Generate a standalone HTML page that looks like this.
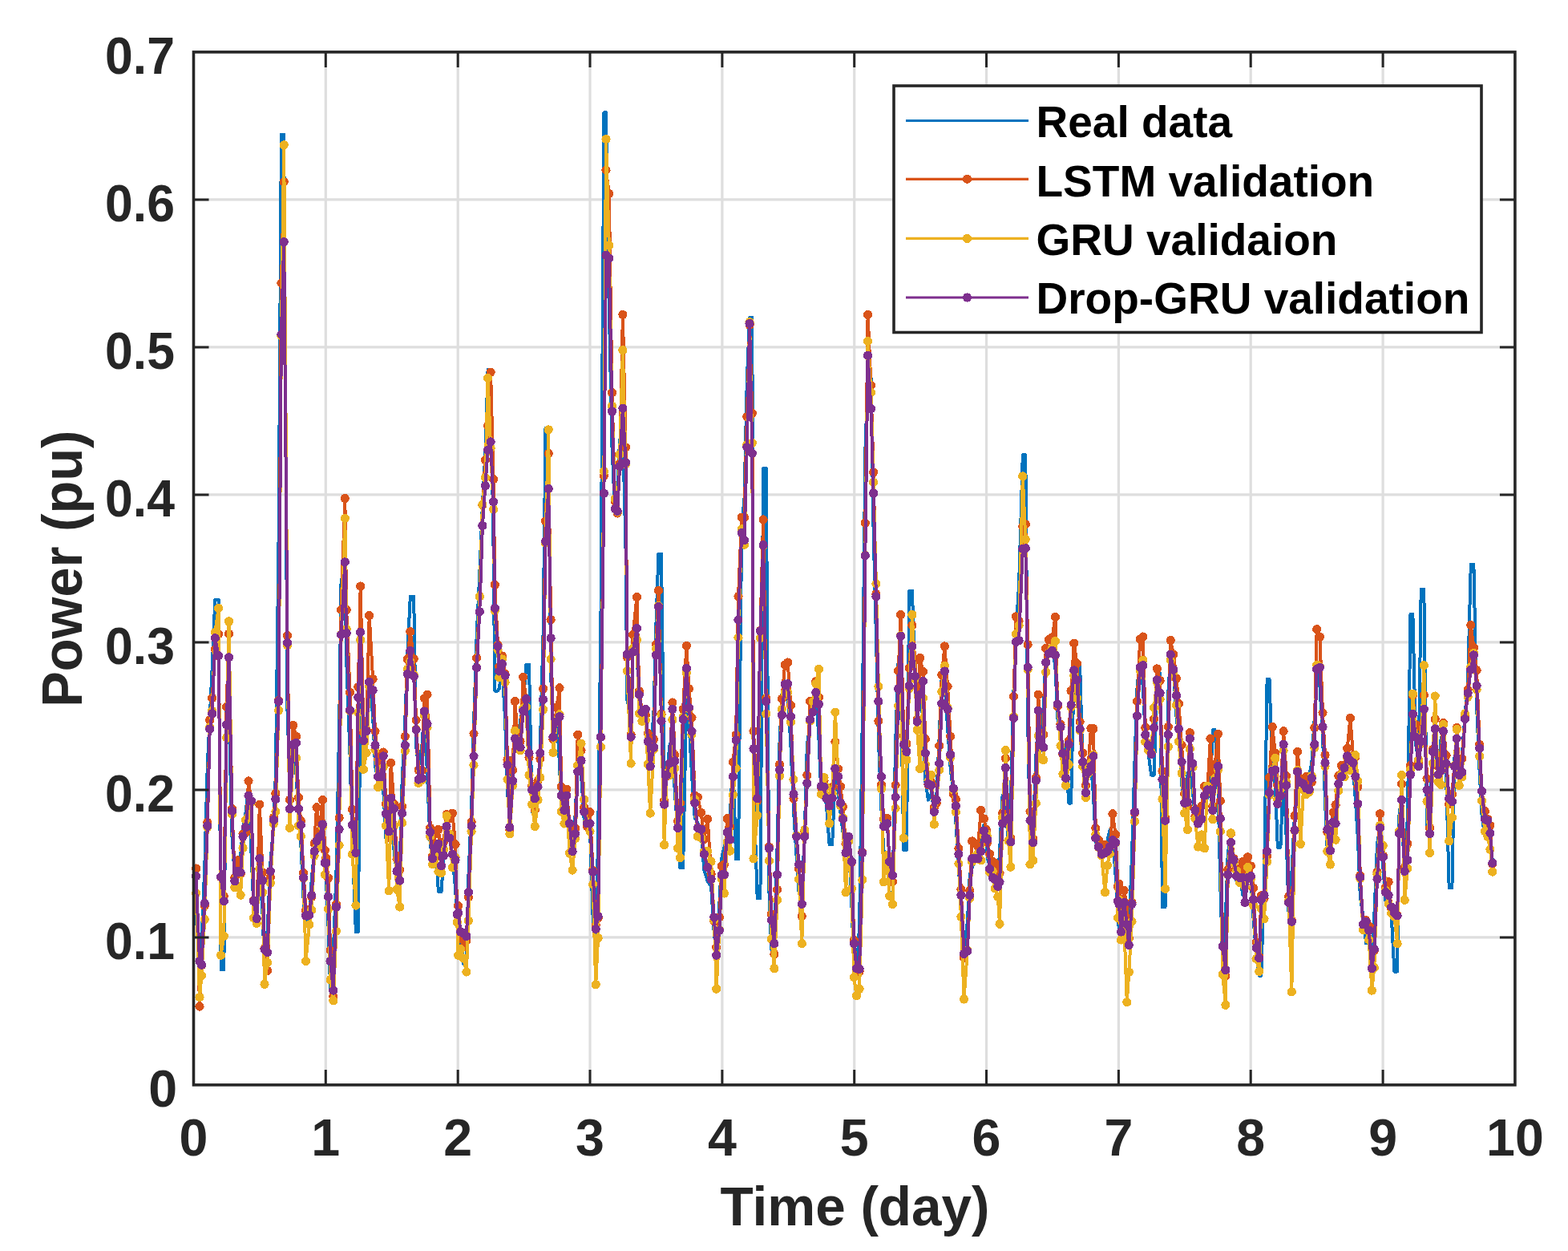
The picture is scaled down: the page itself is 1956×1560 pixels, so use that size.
<!DOCTYPE html>
<html><head><meta charset="utf-8"><title>Power (pu) vs Time (day)</title>
<style>
html,body{margin:0;padding:0;background:#fff;}
svg{display:block;}
</style></head>
<body>
<svg width="1956" height="1560" viewBox="0 0 1956 1560">
<defs>
<marker id="mo" markerUnits="userSpaceOnUse" markerWidth="12" markerHeight="12" refX="6" refY="6" overflow="visible"><circle cx="6" cy="6" r="5.6" fill="#D95319" shape-rendering="crispEdges"/></marker>
<marker id="my" markerUnits="userSpaceOnUse" markerWidth="12" markerHeight="12" refX="6" refY="6" overflow="visible"><circle cx="6" cy="6" r="5.6" fill="#EDB120" shape-rendering="crispEdges"/></marker>
<marker id="mp" markerUnits="userSpaceOnUse" markerWidth="12" markerHeight="12" refX="6" refY="6" overflow="visible"><circle cx="6" cy="6" r="5.6" fill="#7E2F8E" shape-rendering="crispEdges"/></marker>
</defs>
<rect width="1956" height="1560" fill="#fff"/>
<path d="M406.3 64.9V1352.9M571.2 64.9V1352.9M736.0 64.9V1352.9M900.9 64.9V1352.9M1065.7 64.9V1352.9M1230.5 64.9V1352.9M1395.4 64.9V1352.9M1560.2 64.9V1352.9M1725.1 64.9V1352.9M241.5 1168.9H1889.9M241.5 984.9H1889.9M241.5 800.9H1889.9M241.5 616.9H1889.9M241.5 432.9H1889.9M241.5 248.9H1889.9" stroke="#dedede" stroke-width="3.2" fill="none"/>
<g fill="none" stroke-width="4" stroke-linejoin="round" shape-rendering="crispEdges">
<polyline stroke="#0072BD" points="244.6,1140.6 249.0,1205.7 251.5,1172.0 255.2,1084.1 258.8,953.7 261.7,894.9 264.7,832.0 268.3,747.5 272.7,747.5 275.6,1209.4 279.3,1209.4 282.6,871.8 285.5,889.0 289.5,1044.2 292.8,1092.3 296.4,1090.4 300.1,1067.7 303.0,1032.2 306.7,1012.0 310.0,979.1 313.6,1066.3 316.5,1134.4 320.2,1125.9 323.8,1075.8 327.5,1140.3 330.0,1207.2 333.7,1158.4 337.3,1076.7 341.4,1027.4 343.9,963.8 347.6,669.3 350.9,167.9 354.2,167.9 358.5,887.4 361.4,972.5 365.8,927.8 369.5,965.4 372.4,1019.6 375.3,1052.4 378.6,1122.2 381.5,1151.8 385.9,1139.3 388.8,1095.8 392.1,1062.7 395.0,1035.4 398.7,1033.5 402.4,1039.4 405.3,1080.9 406.7,1093.4 409.6,1156.5 412.1,1232.2 415.8,1188.7 419.4,1090.5 423.1,909.4 425.6,722.3 430.3,722.6 432.2,823.5 436.6,942.9 439.5,1053.0 443.9,1162.3 446.8,1162.3 449.7,857.9 453.4,924.7 457.1,904.4 460.7,849.4 465.1,892.5 468.0,954.9 471.7,974.4 475.3,955.8 478.2,985.3 481.5,1045.5 485.2,1035.1 487.7,1022.9 491.4,1059.0 495.0,1089.4 498.7,1078.2 501.6,975.4 505.3,898.2 508.2,818.2 511.8,743.9 516.2,743.9 519.1,930.2 522.1,956.9 526.4,929.7 529.4,886.4 533.0,966.2 536.7,1052.8 539.6,1071.6 543.2,1051.4 546.9,1111.9 550.6,1111.9 553.5,1066.0 557.1,1038.9 560.8,1043.9 564.4,1067.9 568.1,1108.3 570.3,1146.5 571.7,1166.2 574.6,1171.8 578.2,1202.0 581.9,1202.0 584.4,1092.8 588.1,1006.8 591.0,902.3 594.7,791.1 598.3,715.1 601.9,628.9 605.4,565.7 608.6,460.5 612.1,460.5 615.6,686.7 617.3,861.6 621.0,861.6 622.8,858.5 626.4,832.9 630.1,897.5 633.0,992.2 635.9,999.5 639.6,941.6 642.5,932.1 645.4,923.5 649.1,898.9 652.7,879.1 656.4,828.5 660.0,828.5 663.7,1012.6 667.3,988.5 671.0,990.3 673.9,928.2 677.6,788.6 680.5,534.1 684.2,534.1 687.1,841.0 690.0,914.1 694.4,887.3 698.0,954.2 700.2,1010.1 703.9,1015.4 706.8,1010.1 710.4,1044.0 714.1,1065.1 717.7,1014.8 720.7,945.2 725.0,965.7 728.7,1022.6 732.4,1011.5 736.0,1036.1 739.6,1143.2 743.2,1174.9 746.1,1044.7 749.4,780.1 753.4,140.3 756.0,140.3 759.8,383.3 763.5,557.7 767.2,639.7 770.2,607.4 773.1,548.5 776.9,533.7 780.6,687.9 782.3,872.6 787.1,893.1 789.6,805.7 794.4,810.2 797.3,874.5 800.9,884.7 805.3,899.7 808.2,940.7 811.2,951.6 815.5,886.1 818.5,776.7 821.4,690.5 825.0,690.5 828.7,990.2 831.6,969.5 835.3,930.0 838.9,918.4 841.8,988.8 845.5,1036.0 848.4,1082.4 852.1,1082.4 856.4,866.9 859.4,899.6 863.0,966.4 866.7,1019.7 870.3,1026.0 874.7,1041.3 878.4,1085.2 882.7,1098.9 887.1,1105.3 890.8,1164.3 893.7,1185.0 897.4,1126.3 900.3,1069.9 903.5,1056.1 907.1,1041.3 910.8,1015.5 914.4,947.7 918.1,1071.4 921.0,1071.4 925.2,658.0 928.5,620.7 931.8,473.9 935.1,396.1 938.3,396.1 940.0,977.6 944.7,1120.1 948.4,1120.1 952.1,583.8 955.7,583.8 959.4,1111.3 962.3,1184.5 965.9,1173.0 969.6,1055.4 972.5,926.6 975.4,865.5 979.1,849.3 982.7,863.5 986.4,929.5 990.0,1010.9 993.7,1070.0 996.6,1113.3 1000.3,1120.5 1003.9,1033.6 1006.8,929.5 1010.5,903.8 1014.1,876.1 1017.8,860.4 1021.4,920.3 1024.4,990.7 1028.0,992.2 1030.9,1003.6 1034.6,1053.0 1038.2,1053.0 1041.9,964.7 1045.6,987.7 1048.5,1014.1 1051.4,1036.9 1055.0,1048.7 1058.7,1048.6 1062.4,1129.4 1065.3,1200.2 1068.5,1217.9 1072.1,1154.1 1075.8,894.5 1079.3,562.7 1082.6,469.7 1086.5,469.7 1089.6,662.5 1092.9,792.7 1095.9,923.1 1099.5,1010.9 1102.4,1060.0 1106.8,1070.9 1109.7,1117.4 1113.4,1117.4 1117.1,927.0 1120.7,821.5 1123.6,844.1 1127.3,1060.3 1130.9,1060.3 1134.2,736.5 1137.9,736.5 1141.5,848.5 1144.1,881.9 1147.7,867.8 1151.4,895.0 1154.3,973.9 1158.0,997.6 1161.6,990.2 1165.3,1008.9 1168.2,995.4 1171.8,915.9 1174.8,840.6 1178.4,848.4 1182.1,907.9 1185.7,959.2 1189.4,988.9 1192.3,1025.0 1195.9,1079.5 1198.9,1141.9 1202.5,1184.9 1206.9,1148.8 1209.8,1089.9 1212.7,1081.7 1216.4,1072.8 1220.0,1062.8 1223.7,1050.8 1227.4,1028.7 1230.3,1045.2 1231.7,1070.3 1234.6,1078.9 1238.2,1090.0 1241.1,1100.0 1244.8,1098.9 1247.0,1061.7 1250.6,992.0 1254.3,1005.7 1257.9,1050.5 1260.9,996.4 1264.5,860.7 1267.4,790.5 1271.1,727.8 1275.8,567.2 1279.3,567.2 1282.1,897.6 1285.0,1048.6 1288.6,1042.0 1292.3,942.9 1295.2,901.3 1298.1,937.0 1301.8,881.0 1304.7,817.8 1308.4,815.4 1312.7,807.5 1316.4,832.1 1319.3,894.9 1323.0,921.5 1325.9,958.8 1329.5,932.9 1333.2,1001.5 1336.1,1001.5 1339.8,832.6 1343.4,826.7 1347.1,826.7 1350.7,958.6 1354.4,966.7 1357.3,954.2 1360.9,952.6 1363.9,990.6 1366.8,1049.6 1370.4,1057.3 1374.1,1053.3 1378.5,1057.7 1381.4,1048.5 1384.3,1035.3 1388.0,1041.2 1391.6,1092.2 1394.5,1140.1 1395.9,1160.8 1398.5,1140.4 1402.1,1147.8 1405.8,1162.5 1408.3,1159.2 1412.0,1066.3 1415.6,945.7 1418.6,855.4 1422.2,821.0 1425.9,858.0 1428.8,918.4 1432.4,938.7 1436.1,966.5 1439.7,966.5 1443.4,839.5 1447.1,839.5 1450.0,1131.2 1453.6,1131.2 1457.3,864.0 1460.2,815.7 1463.9,835.9 1467.5,894.3 1470.4,917.9 1474.1,977.9 1477.7,1000.9 1481.4,966.3 1484.3,954.6 1488.0,988.2 1490.9,1020.4 1494.5,1013.7 1498.9,1005.6 1502.6,985.8 1506.2,995.5 1509.9,982.7 1512.8,910.2 1515.7,910.2 1519.4,979.2 1522.3,1105.2 1525.2,1198.4 1528.9,1142.4 1531.8,1062.5 1535.4,1044.3 1539.1,1072.5 1542.7,1100.0 1546.4,1082.2 1550.0,1115.7 1553.0,1116.5 1556.6,1090.5 1560.3,1095.9 1563.5,1144.8 1567.1,1190.2 1570.8,1216.7 1573.3,1216.7 1577.0,1097.5 1580.6,846.9 1583.6,846.9 1587.2,967.8 1590.9,979.6 1593.8,1056.7 1597.4,1056.7 1601.1,962.7 1604.7,1045.2 1607.7,1142.7 1611.3,1090.8 1615.0,1014.6 1618.6,973.4 1622.3,969.0 1625.9,980.5 1629.6,987.7 1633.2,965.4 1636.2,952.9 1639.8,894.4 1642.7,837.4 1646.4,854.9 1650.0,919.3 1653.0,999.6 1655.9,1063.4 1659.5,1050.4 1663.2,1025.4 1666.1,1014.1 1669.8,968.7 1673.4,956.0 1677.1,962.6 1680.7,946.1 1684.4,941.9 1688.0,957.9 1690.9,998.5 1693.9,1046.1 1696.8,1117.4 1700.4,1142.7 1704.1,1176.5 1707.7,1166.9 1711.4,1211.4 1714.3,1142.5 1718.0,1052.5 1721.6,1029.6 1725.3,1080.8 1728.5,1124.3 1732.1,1120.2 1735.8,1142.9 1739.4,1211.6 1743.1,1211.6 1745.6,1009.2 1748.6,1015.4 1752.2,1089.3 1755.9,1017.1 1759.5,765.9 1762.4,765.9 1766.1,927.7 1769.7,951.0 1772.7,734.7 1776.3,734.7 1780.0,1032.4 1783.6,1004.6 1787.3,933.2 1790.2,934.2 1793.9,966.2 1797.5,922.4 1800.4,910.8 1804.1,968.5 1807.7,1107.4 1811.4,1107.4 1814.3,945.5 1817.2,933.7 1820.2,978.6 1823.8,941.0 1827.5,892.8 1831.1,847.9 1834.8,703.9 1838.4,703.9 1842.1,881.8 1845.7,964.3 1848.6,1017.9 1852.3,1041.9 1855.9,1025.4 1858.9,1037.9 1861.8,1074.0"/>
<polyline stroke="#D95319" marker-start="url(#mo)" marker-mid="url(#mo)" marker-end="url(#mo)" points="244.6,1083.0 249.0,1255.1 251.5,1203.7 255.2,1129.4 258.8,1025.5 261.7,897.9 264.7,870.5 268.3,809.6 272.7,790.7 275.6,1093.9 279.3,1117.5 282.6,881.7 285.5,790.2 289.5,1008.6 292.8,1094.8 296.4,1072.8 300.1,1089.6 303.0,1039.9 306.7,1037.9 310.0,973.9 313.6,1000.0 316.5,1122.9 320.2,1151.4 323.8,1003.1 327.5,1088.0 330.0,1182.7 333.7,1210.3 337.3,1093.8 341.4,1019.5 343.9,989.5 347.6,873.5 350.9,352.9 354.2,226.8 358.5,792.6 361.4,997.4 365.8,904.5 369.5,918.2 372.4,994.7 375.3,1023.6 378.6,1088.7 381.5,1135.4 385.9,1134.1 388.8,1118.6 392.1,1051.6 395.0,1006.8 398.7,1036.2 402.4,997.7 405.3,1060.3 406.7,1070.2 409.6,1094.9 412.1,1184.9 415.8,1242.4 419.4,1127.6 423.1,1019.7 425.6,760.3 430.3,621.5 432.2,760.5 436.6,863.4 439.5,1009.4 443.9,1062.9 446.8,856.8 449.7,731.0 453.4,913.1 457.1,910.1 460.7,767.6 465.1,846.6 468.0,911.8 471.7,946.9 475.3,965.8 478.2,938.0 481.5,1002.5 485.2,1044.7 487.7,951.3 491.4,1002.7 495.0,1071.3 498.7,1084.7 501.6,1005.6 505.3,918.3 508.2,821.7 511.8,787.7 516.2,821.8 519.1,898.1 522.1,960.3 526.4,960.9 529.4,870.8 533.0,866.2 536.7,1032.3 539.6,1067.7 543.2,1040.1 546.9,1034.4 550.6,1068.5 553.5,1049.9 557.1,1015.7 560.8,1020.9 564.4,1014.1 568.1,1052.9 570.3,1140.7 571.7,1129.6 574.6,1170.4 578.2,1180.8 581.9,1173.2 584.4,1118.8 588.1,1024.8 591.0,914.9 594.7,820.4 598.3,743.8 601.9,629.9 605.4,573.6 608.6,531.1 612.1,464.2 615.6,597.7 617.3,729.2 621.0,803.8 622.8,831.0 626.4,817.9 630.1,840.5 633.0,947.5 635.9,1035.4 639.6,960.2 642.5,874.6 645.4,915.2 649.1,924.5 652.7,844.3 656.4,871.8 660.0,944.8 663.7,980.2 667.3,1009.8 671.0,973.7 673.9,946.2 677.6,858.9 680.5,649.8 684.2,565.5 687.1,772.6 690.0,922.1 694.4,882.0 698.0,857.8 700.2,981.2 703.9,1004.4 706.8,984.2 710.4,1027.1 714.1,1047.1 717.7,1033.0 720.7,916.2 725.0,935.7 728.7,1007.0 732.4,1030.6 736.0,1012.8 739.6,1085.2 743.2,1154.0 746.1,1144.8 749.4,919.3 753.4,593.2 756.0,212.1 759.8,241.5 763.5,489.7 767.2,625.2 770.2,640.0 773.1,577.9 776.9,392.4 780.6,557.8 782.3,819.7 787.1,916.3 789.6,791.4 794.4,744.6 797.3,861.9 800.9,886.3 805.3,891.9 808.2,914.6 811.2,948.1 815.5,922.1 818.5,803.7 821.4,736.5 825.0,890.1 828.7,998.3 831.6,968.0 835.3,956.5 838.9,876.0 841.8,941.6 845.5,1024.0 848.4,1001.4 852.1,884.4 856.4,805.2 859.4,858.9 863.0,894.8 866.7,992.0 870.3,994.0 874.7,1013.4 878.4,1046.4 882.7,1021.4 887.1,1089.6 890.8,1148.8 893.7,1181.3 897.4,1143.8 900.3,1080.0 903.5,1078.0 907.1,1020.8 910.8,1031.1 914.4,950.2 918.1,916.4 921.0,743.7 925.2,645.1 928.5,645.2 931.8,519.7 935.1,405.3 938.3,515.4 940.0,911.7 944.7,998.5 948.4,786.5 952.1,647.9 955.7,870.3 959.4,1056.1 962.3,1139.8 965.9,1189.7 969.6,1109.4 972.5,953.2 975.4,871.5 979.1,828.9 982.7,826.0 986.4,879.7 990.0,995.6 993.7,1042.5 996.6,1083.6 1000.3,1142.5 1003.9,1037.1 1006.8,966.8 1010.5,874.5 1014.1,875.4 1017.8,849.7 1021.4,869.4 1024.4,981.8 1028.0,973.2 1030.9,994.1 1034.6,994.8 1038.2,981.5 1041.9,924.9 1045.6,958.8 1048.5,980.8 1051.4,1006.0 1055.0,1052.3 1058.7,1045.3 1062.4,1075.2 1065.3,1172.3 1068.5,1209.9 1072.1,1211.3 1075.8,1062.8 1079.3,652.2 1082.6,392.4 1086.5,480.4 1089.6,588.9 1092.9,740.7 1095.9,899.2 1099.5,978.9 1102.4,1021.4 1106.8,1020.4 1109.7,1080.6 1113.4,1099.3 1117.1,979.0 1120.7,836.5 1123.6,766.6 1127.3,917.6 1130.9,927.5 1134.2,832.8 1137.9,779.6 1141.5,823.7 1144.1,897.1 1147.7,820.5 1151.4,837.4 1154.3,921.6 1158.0,978.6 1161.6,975.3 1165.3,1006.9 1168.2,1002.0 1171.8,930.0 1174.8,841.8 1178.4,805.9 1182.1,856.1 1185.7,918.3 1189.4,990.5 1192.3,996.9 1195.9,1057.9 1198.9,1108.9 1202.5,1194.3 1206.9,1185.7 1209.8,1110.4 1212.7,1048.9 1216.4,1052.0 1220.0,1055.9 1223.7,1010.4 1227.4,1020.9 1230.3,1034.6 1231.7,1050.7 1234.6,1064.9 1238.2,1074.2 1241.1,1075.9 1244.8,1088.2 1247.0,1088.9 1250.6,1013.9 1254.3,945.7 1257.9,1016.2 1260.9,1045.2 1264.5,868.5 1267.4,768.9 1271.1,774.5 1275.8,656.5 1279.3,653.7 1282.1,803.7 1285.0,1011.8 1288.6,1045.9 1292.3,969.7 1295.2,866.2 1298.1,919.5 1301.8,916.0 1304.7,808.4 1308.4,797.7 1312.7,794.9 1316.4,769.4 1319.3,880.8 1323.0,903.1 1325.9,940.8 1329.5,958.6 1333.2,924.1 1336.1,861.5 1339.8,802.1 1343.4,827.7 1347.1,900.1 1350.7,939.2 1354.4,979.3 1357.3,960.7 1360.9,908.2 1363.9,908.7 1366.8,1032.8 1370.4,1047.7 1374.1,1065.3 1378.5,1053.4 1381.4,1061.7 1384.3,1056.5 1388.0,1014.8 1391.6,1040.6 1394.5,1105.9 1395.9,1102.0 1398.5,1147.8 1402.1,1110.4 1405.8,1127.7 1408.3,1170.3 1412.0,1125.1 1415.6,1013.8 1418.6,874.6 1422.2,796.8 1425.9,794.0 1428.8,907.2 1432.4,927.1 1436.1,937.7 1439.7,896.4 1443.4,833.9 1447.1,848.6 1450.0,961.5 1453.6,1019.8 1457.3,906.3 1460.2,798.6 1463.9,816.2 1467.5,846.1 1470.4,877.4 1474.1,929.1 1477.7,989.7 1481.4,1005.6 1484.3,913.7 1488.0,956.4 1490.9,1018.4 1494.5,1015.6 1498.9,1005.2 1502.6,980.6 1506.2,986.8 1509.9,921.0 1512.8,1005.2 1515.7,953.3 1519.4,915.2 1522.3,998.8 1525.2,1179.9 1528.9,1217.3 1531.8,1084.5 1535.4,1039.3 1539.1,1070.6 1542.7,1082.8 1546.4,1092.1 1550.0,1074.7 1553.0,1103.9 1556.6,1068.8 1560.3,1079.9 1563.5,1107.2 1567.1,1175.2 1570.8,1192.7 1573.3,1116.9 1577.0,1120.3 1580.6,1067.3 1583.6,969.6 1587.2,906.4 1590.9,939.0 1593.8,979.1 1597.4,990.8 1601.1,911.8 1604.7,967.7 1607.7,1117.7 1611.3,1147.9 1615.0,1017.4 1618.6,937.4 1622.3,972.9 1625.9,977.3 1629.6,968.7 1633.2,969.8 1636.2,975.3 1639.8,907.4 1642.7,784.7 1646.4,794.1 1650.0,888.8 1653.0,941.6 1655.9,1037.5 1659.5,1035.9 1663.2,1013.1 1666.1,1003.6 1669.8,967.6 1673.4,954.6 1677.1,956.9 1680.7,933.2 1684.4,895.4 1688.0,942.1 1690.9,943.9 1693.9,981.4 1696.8,1091.9 1700.4,1152.8 1704.1,1147.8 1707.7,1154.9 1711.4,1207.2 1714.3,1185.2 1718.0,1087.6 1721.6,1014.8 1725.3,1067.1 1728.5,1106.6 1732.1,1099.6 1735.8,1133.3 1739.4,1133.7 1743.1,1141.7 1745.6,1037.9 1748.6,977.7 1752.2,1081.5 1755.9,1052.4 1759.5,954.6 1762.4,867.0 1766.1,903.6 1769.7,950.5 1772.7,906.5 1776.3,866.8 1780.0,970.8 1783.6,1032.4 1787.3,934.4 1790.2,896.9 1793.9,956.0 1797.5,942.2 1800.4,901.6 1804.1,942.2 1807.7,1002.9 1811.4,990.3 1814.3,954.7 1817.2,907.5 1820.2,964.1 1823.8,946.2 1827.5,893.9 1831.1,860.2 1834.8,779.6 1838.4,807.3 1842.1,835.8 1845.7,928.3 1848.6,986.5 1852.3,1011.6 1855.9,1021.5 1858.9,1029.4 1861.8,1077.3"/>
<polyline stroke="#EDB120" marker-start="url(#my)" marker-mid="url(#my)" marker-end="url(#my)" points="244.6,1113.9 249.0,1243.5 251.5,1216.4 255.2,1146.5 258.8,1031.4 261.7,906.8 264.7,886.3 268.3,788.4 272.7,758.4 275.6,1191.2 279.3,1167.3 282.6,919.9 285.5,774.9 289.5,1015.4 292.8,1106.8 296.4,1105.6 300.1,1116.2 303.0,1057.5 306.7,1022.5 310.0,1017.8 313.6,1000.2 316.5,1144.8 320.2,1151.4 323.8,1083.3 327.5,1112.9 330.0,1227.3 333.7,1200.4 337.3,1101.1 341.4,1027.2 343.9,1012.3 347.6,885.9 350.9,419.1 354.2,180.8 358.5,804.7 361.4,1032.3 365.8,938.1 369.5,945.3 372.4,1029.8 375.3,1042.9 378.6,1095.2 381.5,1198.5 385.9,1153.0 388.8,1134.7 392.1,1067.2 395.0,1057.6 398.7,1053.8 402.4,1031.2 405.3,1090.7 406.7,1077.5 409.6,1133.6 412.1,1221.7 415.8,1247.8 419.4,1161.2 423.1,1053.9 425.6,791.1 430.3,646.3 432.2,784.6 436.6,886.7 439.5,1065.2 443.9,1129.1 446.8,888.4 449.7,798.0 453.4,959.3 457.1,938.8 460.7,856.2 465.1,861.0 468.0,935.0 471.7,981.6 475.3,978.6 478.2,956.9 481.5,1029.8 485.2,1110.9 487.7,1001.3 491.4,1030.0 495.0,1109.2 498.7,1131.0 501.6,1026.1 505.3,936.4 508.2,834.4 511.8,824.7 516.2,841.7 519.1,909.4 522.1,976.5 526.4,972.6 529.4,892.5 533.0,907.1 536.7,1043.2 539.6,1077.9 543.2,1063.5 546.9,1087.1 550.6,1088.4 553.5,1059.3 557.1,1017.4 560.8,1039.9 564.4,1081.8 568.1,1069.2 570.3,1150.0 571.7,1191.2 574.6,1183.6 578.2,1194.9 581.9,1212.0 584.4,1148.1 588.1,1036.6 591.0,954.1 594.7,832.4 598.3,744.0 601.9,629.4 605.4,595.4 608.6,471.5 612.1,558.7 615.6,635.1 617.3,761.5 621.0,810.3 622.8,844.9 626.4,821.9 630.1,850.7 633.0,971.9 635.9,1039.7 639.6,979.8 642.5,911.4 645.4,923.6 649.1,935.9 652.7,883.2 656.4,881.3 660.0,966.6 663.7,1003.1 667.3,1030.5 671.0,997.5 673.9,969.6 677.6,884.9 680.5,677.2 684.2,535.9 687.1,821.9 690.0,938.5 694.4,898.1 698.0,890.8 700.2,1012.2 703.9,1027.0 706.8,992.3 710.4,1063.9 714.1,1085.1 717.7,1045.5 720.7,954.6 725.0,927.2 728.7,997.0 732.4,1025.6 736.0,1036.7 739.6,1102.9 743.2,1227.8 746.1,1169.6 749.4,931.4 753.4,587.8 756.0,173.5 759.8,306.0 763.5,506.2 767.2,622.2 770.2,638.2 773.1,566.7 776.9,436.6 780.6,578.8 782.3,836.7 787.1,952.0 789.6,808.5 794.4,797.9 797.3,889.7 800.9,899.3 805.3,898.0 808.2,953.1 811.2,1014.1 815.5,934.4 818.5,809.0 821.4,755.5 825.0,891.7 828.7,1053.5 831.6,964.5 835.3,966.9 838.9,897.5 841.8,958.0 845.5,1057.6 848.4,1069.6 852.1,893.9 856.4,839.1 859.4,883.7 863.0,916.0 866.7,996.6 870.3,1043.0 874.7,1045.0 878.4,1061.6 882.7,1061.7 887.1,1074.5 890.8,1147.2 893.7,1233.2 897.4,1159.5 900.3,1096.4 903.5,1114.1 907.1,1050.3 910.8,1061.2 914.4,991.2 918.1,958.0 921.0,795.1 925.2,659.8 928.5,679.2 931.8,554.7 935.1,401.6 938.3,552.4 940.0,1070.7 944.7,1016.8 948.4,795.8 952.1,680.4 955.7,890.2 959.4,1073.5 962.3,1171.0 965.9,1207.7 969.6,1122.4 972.5,967.7 975.4,884.2 979.1,864.1 982.7,863.8 986.4,900.6 990.0,972.0 993.7,1042.0 996.6,1096.3 1000.3,1176.6 1003.9,1034.8 1006.8,976.4 1010.5,899.2 1014.1,875.1 1017.8,852.8 1021.4,834.4 1024.4,990.2 1028.0,969.6 1030.9,981.6 1034.6,1026.9 1038.2,989.7 1041.9,888.1 1045.6,968.2 1048.5,1004.8 1051.4,1019.3 1055.0,1112.7 1058.7,1049.1 1062.4,1108.2 1065.3,1218.6 1068.5,1241.7 1072.1,1233.2 1075.8,1097.3 1079.3,692.5 1082.6,425.5 1086.5,489.4 1089.6,601.2 1092.9,728.1 1095.9,856.3 1099.5,983.7 1102.4,1099.9 1106.8,1066.2 1109.7,1117.2 1113.4,1127.7 1117.1,1007.9 1120.7,880.3 1123.6,792.7 1127.3,1045.1 1130.9,947.5 1134.2,858.5 1137.9,766.5 1141.5,846.6 1144.1,910.2 1147.7,958.6 1151.4,870.3 1154.3,953.4 1158.0,973.8 1161.6,966.4 1165.3,1028.0 1168.2,997.5 1171.8,960.2 1174.8,862.5 1178.4,830.2 1182.1,882.6 1185.7,944.6 1189.4,985.2 1192.3,1012.6 1195.9,1077.0 1198.9,1143.4 1202.5,1246.0 1206.9,1185.0 1209.8,1120.0 1212.7,1074.5 1216.4,1068.1 1220.0,1064.3 1223.7,1072.9 1227.4,1042.2 1230.3,1039.0 1231.7,1044.2 1234.6,1087.6 1238.2,1086.5 1241.1,1108.0 1244.8,1118.2 1247.0,1152.2 1250.6,1019.6 1254.3,935.6 1257.9,1048.2 1260.9,1081.2 1264.5,893.5 1267.4,790.6 1271.1,779.9 1275.8,593.9 1279.3,672.5 1282.1,834.9 1285.0,1078.0 1288.6,1073.0 1292.3,1001.8 1295.2,917.4 1298.1,946.1 1301.8,947.6 1304.7,838.2 1308.4,814.2 1312.7,807.7 1316.4,799.4 1319.3,878.5 1323.0,929.8 1325.9,965.2 1329.5,979.4 1333.2,953.5 1336.1,881.6 1339.8,842.3 1343.4,870.7 1347.1,910.8 1350.7,955.8 1354.4,994.4 1357.3,964.7 1360.9,951.0 1363.9,941.5 1366.8,1040.6 1370.4,1056.7 1374.1,1067.1 1378.5,1112.7 1381.4,1079.2 1384.3,1064.8 1388.0,1053.9 1391.6,1051.1 1394.5,1144.5 1395.9,1122.2 1398.5,1172.1 1402.1,1149.0 1405.8,1249.7 1408.3,1212.1 1412.0,1149.1 1415.6,1024.4 1418.6,892.8 1422.2,835.9 1425.9,823.4 1428.8,925.1 1432.4,935.4 1436.1,938.3 1439.7,882.4 1443.4,850.9 1447.1,871.8 1450.0,996.5 1453.6,1108.3 1457.3,931.1 1460.2,823.1 1463.9,837.5 1467.5,879.2 1470.4,924.6 1474.1,964.3 1477.7,1014.1 1481.4,1034.6 1484.3,933.9 1488.0,956.5 1490.9,1020.9 1494.5,1056.0 1498.9,1040.9 1502.6,1057.9 1506.2,980.3 1509.9,985.2 1512.8,1021.8 1515.7,970.4 1519.4,959.9 1522.3,1036.8 1525.2,1215.3 1528.9,1253.3 1531.8,1091.1 1535.4,1038.8 1539.1,1076.2 1542.7,1086.2 1546.4,1100.5 1550.0,1099.7 1553.0,1106.1 1556.6,1081.6 1560.3,1095.9 1563.5,1128.9 1567.1,1195.6 1570.8,1211.3 1573.3,1133.0 1577.0,1145.9 1580.6,1074.7 1583.6,991.7 1587.2,960.1 1590.9,945.5 1593.8,997.1 1597.4,983.6 1601.1,936.2 1604.7,975.3 1607.7,1123.6 1611.3,1236.9 1615.0,1036.2 1618.6,960.3 1622.3,1052.4 1625.9,984.9 1629.6,990.4 1633.2,988.0 1636.2,967.6 1639.8,932.5 1642.7,829.2 1646.4,831.5 1650.0,906.6 1653.0,955.6 1655.9,1061.5 1659.5,1078.0 1663.2,1030.6 1666.1,1047.2 1669.8,986.1 1673.4,965.7 1677.1,968.8 1680.7,944.4 1684.4,960.3 1688.0,942.9 1690.9,941.8 1693.9,974.2 1696.8,1095.6 1700.4,1159.5 1704.1,1159.4 1707.7,1171.9 1711.4,1235.1 1714.3,1206.6 1718.0,1090.0 1721.6,1029.1 1725.3,1054.5 1728.5,1110.2 1732.1,1127.0 1735.8,1138.9 1739.4,1143.0 1743.1,1176.6 1745.6,1036.7 1748.6,966.6 1752.2,1122.3 1755.9,1083.0 1759.5,959.8 1762.4,865.1 1766.1,918.0 1769.7,947.3 1772.7,927.7 1776.3,829.7 1780.0,999.3 1783.6,1063.4 1787.3,951.7 1790.2,868.0 1793.9,975.1 1797.5,978.5 1800.4,903.6 1804.1,953.5 1807.7,1048.8 1811.4,1019.3 1814.3,954.6 1817.2,909.6 1820.2,979.4 1823.8,968.9 1827.5,890.1 1831.1,869.2 1834.8,831.8 1838.4,814.4 1842.1,860.0 1845.7,943.1 1848.6,998.6 1852.3,1036.6 1855.9,1043.3 1858.9,1059.4 1861.8,1087.1"/>
<polyline stroke="#7E2F8E" marker-start="url(#mp)" marker-mid="url(#mp)" marker-end="url(#mp)" points="244.6,1092.6 249.0,1198.5 251.5,1203.3 255.2,1126.6 258.8,1029.8 261.7,908.9 264.7,889.9 268.3,795.7 272.7,817.6 275.6,1093.4 279.3,1123.7 282.6,903.8 285.5,819.8 289.5,1011.2 292.8,1098.8 296.4,1086.4 300.1,1087.9 303.0,1043.3 306.7,1031.6 310.0,992.2 313.6,998.8 316.5,1123.7 320.2,1145.6 323.8,1070.7 327.5,1098.1 330.0,1183.9 333.7,1187.6 337.3,1086.4 341.4,1022.5 343.9,996.6 347.6,874.6 350.9,417.0 354.2,301.7 358.5,801.5 361.4,1008.6 365.8,928.3 369.5,926.4 372.4,1008.6 375.3,1028.7 378.6,1094.4 381.5,1141.9 385.9,1141.2 388.8,1116.4 392.1,1061.6 395.0,1048.8 398.7,1043.3 402.4,1028.0 405.3,1076.2 406.7,1076.2 409.6,1118.2 412.1,1198.5 415.8,1235.1 419.4,1131.0 423.1,1034.2 425.6,791.3 430.3,700.9 432.2,789.5 436.6,885.5 439.5,1028.7 443.9,1063.4 446.8,869.8 449.7,788.4 453.4,923.5 457.1,911.8 460.7,850.5 465.1,860.7 468.0,929.4 471.7,968.4 475.3,968.4 478.2,942.9 481.5,1014.8 485.2,1036.7 487.7,995.1 491.4,1008.6 495.0,1086.4 498.7,1098.1 501.6,1014.1 505.3,929.4 508.2,840.6 511.8,811.4 516.2,843.2 519.1,910.0 522.1,972.1 526.4,970.3 529.4,887.0 533.0,902.7 536.7,1037.8 539.6,1070.7 543.2,1057.9 546.9,1052.4 550.6,1079.8 553.5,1067.1 557.1,1030.5 560.8,1045.1 564.4,1065.2 568.1,1072.5 570.3,1140.1 571.7,1138.3 574.6,1162.0 578.2,1163.8 581.9,1167.5 584.4,1112.7 588.1,1029.8 591.0,942.9 594.7,832.6 598.3,762.8 601.9,655.5 605.4,605.9 608.6,561.1 612.1,550.9 615.6,625.8 617.3,758.4 621.0,805.9 622.8,837.0 626.4,827.8 630.1,842.4 633.0,953.8 635.9,1031.6 639.6,973.9 642.5,921.0 645.4,928.3 649.1,931.9 652.7,886.3 656.4,871.7 660.0,939.2 663.7,984.9 667.3,995.8 671.0,981.2 673.9,939.2 677.6,872.4 680.5,675.0 684.2,609.4 687.1,795.7 690.0,919.1 694.4,900.1 698.0,893.6 700.2,992.2 703.9,1010.4 706.8,992.2 710.4,1026.9 714.1,1061.6 717.7,1039.7 720.7,962.2 725.0,948.4 728.7,1012.3 732.4,1026.9 736.0,1026.9 739.6,1087.1 743.2,1158.4 746.1,1142.7 749.4,919.1 753.4,615.1 756.0,318.4 759.8,322.0 763.5,512.9 767.2,634.4 770.2,637.4 773.1,581.6 776.9,509.1 780.6,576.8 782.3,816.1 787.1,919.1 789.6,813.2 794.4,783.3 797.3,866.2 800.9,888.1 805.3,884.4 808.2,924.6 811.2,955.7 815.5,931.9 818.5,816.9 821.4,756.6 825.0,899.1 828.7,1003.1 831.6,966.6 835.3,952.0 838.9,884.4 841.8,949.1 845.5,1032.4 848.4,1009.7 852.1,897.2 856.4,833.3 859.4,882.6 863.0,911.8 866.7,1001.3 870.3,1032.4 874.7,1034.2 878.4,1065.2 882.7,1081.7 887.1,1096.3 890.8,1143.8 893.7,1191.2 897.4,1160.2 900.3,1090.8 903.5,1090.8 907.1,1037.8 910.8,1047.0 914.4,968.4 918.1,922.8 921.0,773.0 925.2,664.5 928.5,673.8 931.8,557.7 935.1,403.5 938.3,565.3 940.0,933.7 944.7,995.8 948.4,786.9 952.1,679.7 955.7,874.6 959.4,1057.9 962.3,1147.4 965.9,1176.6 969.6,1090.8 972.5,960.0 975.4,891.7 979.1,853.4 982.7,852.7 986.4,893.6 990.0,990.4 993.7,1043.3 996.6,1078.0 1000.3,1127.3 1003.9,1043.3 1006.8,976.8 1010.5,897.2 1014.1,888.1 1017.8,863.6 1021.4,878.2 1024.4,980.5 1028.0,981.2 1030.9,995.8 1034.6,1005.0 1038.2,995.1 1041.9,958.6 1045.6,968.4 1048.5,1001.3 1051.4,1021.4 1055.0,1063.4 1058.7,1043.3 1062.4,1074.4 1065.3,1176.6 1068.5,1207.7 1072.1,1208.4 1075.8,1063.4 1079.3,692.8 1082.6,443.2 1086.5,509.7 1089.6,615.0 1092.9,743.8 1095.9,874.6 1099.5,968.4 1102.4,1030.5 1106.8,1026.9 1109.7,1074.4 1113.4,1091.5 1117.1,994.0 1120.7,858.9 1123.6,793.1 1127.3,928.3 1130.9,937.4 1134.2,855.2 1137.9,805.9 1141.5,843.2 1144.1,900.1 1147.7,866.2 1151.4,849.7 1154.3,939.2 1158.0,977.6 1161.6,979.4 1165.3,1012.3 1168.2,997.7 1171.8,952.0 1174.8,877.1 1178.4,837.0 1182.1,884.4 1185.7,941.1 1189.4,983.1 1192.3,1005.0 1195.9,1065.2 1198.9,1116.4 1202.5,1189.4 1206.9,1185.8 1209.8,1116.4 1212.7,1070.7 1216.4,1070.7 1220.0,1070.7 1223.7,1061.6 1227.4,1036.0 1230.3,1045.1 1231.7,1047.0 1234.6,1083.5 1238.2,1094.4 1241.1,1096.3 1244.8,1105.4 1247.0,1099.9 1250.6,1026.9 1254.3,957.5 1257.9,1021.4 1260.9,1049.9 1264.5,895.4 1267.4,800.4 1271.1,798.6 1275.8,684.3 1279.3,683.8 1282.1,832.2 1285.0,1023.2 1288.6,1050.6 1292.3,973.2 1295.2,886.3 1298.1,924.6 1301.8,931.9 1304.7,826.0 1308.4,815.0 1312.7,811.4 1316.4,816.9 1319.3,878.2 1323.0,906.4 1325.9,939.2 1329.5,970.3 1333.2,928.3 1336.1,879.0 1339.8,835.9 1343.4,847.9 1347.1,908.9 1350.7,950.2 1354.4,988.5 1357.3,963.0 1360.9,955.7 1363.9,942.9 1366.8,1045.1 1370.4,1056.1 1374.1,1065.2 1378.5,1063.4 1381.4,1061.6 1384.3,1056.1 1388.0,1047.7 1391.6,1050.6 1394.5,1123.7 1395.9,1127.3 1398.5,1162.0 1402.1,1125.5 1405.8,1152.9 1408.3,1178.5 1412.0,1127.3 1415.6,1012.3 1418.6,892.8 1422.2,832.2 1425.9,829.7 1428.8,916.2 1432.4,929.4 1436.1,940.3 1439.7,907.5 1443.4,847.9 1447.1,864.4 1450.0,972.1 1453.6,1023.2 1457.3,916.2 1460.2,816.1 1463.9,835.1 1467.5,867.3 1470.4,908.9 1474.1,950.2 1477.7,1001.3 1481.4,1000.2 1484.3,921.0 1488.0,952.0 1490.9,1010.4 1494.5,1026.9 1498.9,1021.4 1502.6,992.2 1506.2,984.9 1509.9,984.9 1512.8,1010.4 1515.7,973.9 1519.4,955.7 1522.3,1020.7 1525.2,1180.3 1528.9,1209.5 1531.8,1090.8 1535.4,1050.6 1539.1,1072.5 1542.7,1092.6 1546.4,1094.4 1550.0,1094.4 1553.0,1125.5 1556.6,1094.4 1560.3,1092.6 1563.5,1121.8 1567.1,1182.1 1570.8,1194.9 1573.3,1121.8 1577.0,1116.4 1580.6,1061.6 1583.6,988.5 1587.2,961.1 1590.9,960.0 1593.8,1002.4 1597.4,992.2 1601.1,928.3 1604.7,979.4 1607.7,1125.5 1611.3,1149.2 1615.0,1035.3 1618.6,962.2 1622.3,975.7 1625.9,977.6 1629.6,983.1 1633.2,984.9 1636.2,970.3 1639.8,928.3 1642.7,834.4 1646.4,832.2 1650.0,906.4 1653.0,951.3 1655.9,1034.2 1659.5,1060.8 1663.2,1025.1 1666.1,1026.9 1669.8,977.6 1673.4,968.4 1677.1,957.5 1680.7,942.9 1684.4,948.4 1688.0,951.3 1690.9,968.4 1693.9,1002.4 1696.8,1093.7 1700.4,1152.9 1704.1,1149.2 1707.7,1160.2 1711.4,1207.7 1714.3,1183.9 1718.0,1096.3 1721.6,1032.4 1725.3,1068.9 1728.5,1112.7 1732.1,1116.4 1735.8,1131.0 1739.4,1138.3 1743.1,1141.9 1745.6,1039.7 1748.6,997.7 1752.2,1086.4 1755.9,1072.5 1759.5,965.9 1762.4,890.7 1766.1,919.1 1769.7,955.7 1772.7,924.6 1776.3,884.4 1780.0,984.9 1783.6,1039.7 1787.3,937.4 1790.2,908.9 1793.9,965.9 1797.5,961.1 1800.4,911.8 1804.1,952.0 1807.7,995.8 1811.4,999.5 1814.3,955.7 1817.2,921.0 1820.2,966.6 1823.8,963.0 1827.5,896.5 1831.1,864.4 1834.8,835.1 1838.4,816.9 1842.1,855.2 1845.7,933.0 1848.6,986.7 1852.3,1021.4 1855.9,1023.2 1858.9,1038.9 1861.8,1076.2"/>
</g>
<path d="M406.3 1352.9v-19M406.3 64.9v19M571.2 1352.9v-19M571.2 64.9v19M736.0 1352.9v-19M736.0 64.9v19M900.9 1352.9v-19M900.9 64.9v19M1065.7 1352.9v-19M1065.7 64.9v19M1230.5 1352.9v-19M1230.5 64.9v19M1395.4 1352.9v-19M1395.4 64.9v19M1560.2 1352.9v-19M1560.2 64.9v19M1725.1 1352.9v-19M1725.1 64.9v19M241.5 1168.9h19M1889.9 1168.9h-19M241.5 984.9h19M1889.9 984.9h-19M241.5 800.9h19M1889.9 800.9h-19M241.5 616.9h19M1889.9 616.9h-19M241.5 432.9h19M1889.9 432.9h-19M241.5 248.9h19M1889.9 248.9h-19" stroke="#262626" stroke-width="3" fill="none"/>
<rect x="241.5" y="64.9" width="1648.4" height="1288" fill="none" stroke="#262626" stroke-width="3.6"/>
<g font-family="'Liberation Sans', Arial, Helvetica, sans-serif" font-weight="bold" font-size="64.5" fill="#262626">
<g text-anchor="end"><text x="221" y="1379.9">0</text><text x="218" y="1195.9" textLength="87" lengthAdjust="spacingAndGlyphs">0.1</text><text x="218" y="1011.9" textLength="87" lengthAdjust="spacingAndGlyphs">0.2</text><text x="218" y="827.9" textLength="87" lengthAdjust="spacingAndGlyphs">0.3</text><text x="218" y="643.9" textLength="87" lengthAdjust="spacingAndGlyphs">0.4</text><text x="218" y="459.9" textLength="87" lengthAdjust="spacingAndGlyphs">0.5</text><text x="218" y="275.9" textLength="87" lengthAdjust="spacingAndGlyphs">0.6</text><text x="218" y="91.9" textLength="87" lengthAdjust="spacingAndGlyphs">0.7</text></g>
<g text-anchor="middle"><text x="241.5" y="1441">0</text><text x="406.3" y="1441">1</text><text x="571.2" y="1441">2</text><text x="736.0" y="1441">3</text><text x="900.9" y="1441">4</text><text x="1065.7" y="1441">5</text><text x="1230.5" y="1441">6</text><text x="1395.4" y="1441">7</text><text x="1560.2" y="1441">8</text><text x="1725.1" y="1441">9</text><text x="1889.9" y="1441">10</text></g>
</g>
<g font-family="'Liberation Sans', Arial, Helvetica, sans-serif" font-weight="bold" font-size="69" fill="#262626" text-anchor="middle">
<text x="1066.5" y="1527.8" textLength="336" lengthAdjust="spacingAndGlyphs">Time (day)</text>
<text transform="translate(101.6 709.3) rotate(-90)" x="0" y="0" font-size="70.5" textLength="345" lengthAdjust="spacingAndGlyphs">Power (pu)</text>
</g>
<g>
<rect x="1115" y="107" width="733" height="307.5" fill="#fff" stroke="#262626" stroke-width="3.6"/>
<g stroke-width="3.2">
<path d="M1130 150.5H1283" stroke="#0072BD"/>
<path d="M1130 223.3H1283" stroke="#D95319"/>
<path d="M1130 297.4H1283" stroke="#EDB120"/>
<path d="M1130 371H1283" stroke="#7E2F8E"/>
</g>
<circle cx="1206.5" cy="223.3" r="5.6" fill="#D95319" shape-rendering="crispEdges"/>
<circle cx="1206.5" cy="297.4" r="5.6" fill="#EDB120" shape-rendering="crispEdges"/>
<circle cx="1206.5" cy="371" r="5.6" fill="#7E2F8E" shape-rendering="crispEdges"/>
<g font-family="'Liberation Sans', Arial, Helvetica, sans-serif" font-weight="bold" font-size="55" fill="#000">
<text x="1292.5" y="170.6">Real data</text>
<text x="1292.5" y="244.6">LSTM validation</text>
<text x="1292.5" y="317.8">GRU validaion</text>
<text x="1292.5" y="391.4">Drop-GRU validation</text>
</g>
</g>
</svg>
</body></html>
